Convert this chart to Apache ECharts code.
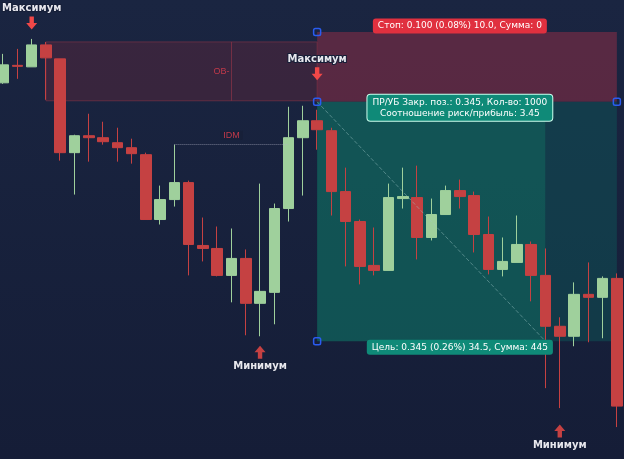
<!DOCTYPE html>
<html>
<head>
<meta charset="utf-8">
<script src="https://cdn.jsdelivr.net/npm/echarts@6/dist/echarts.min.js"></script>
<style>html,body{margin:0;padding:0;background:#161f38;}#c{width:624px;height:459px;}</style>
</head>
<body>
<div id="c"></div>
<script>
// свечи: open, close, low, high (условные единицы цены)
const opens  = [377,394.5,393,415,401,307,324,322,317,312,305,240,260,277,214,211,184,201,156,167,251,322,339,329,268,238,194,189,261,262,222,245,269,264,225,190,197,215,184,133,123,165,162,181];
const closes = [395,393.5,415,402,307,324,322,318,312,306,240,260,277,215,211,184,201,156,168,251,322,339,330,268,238,193,189,262,263,222,245,269,263,225,190,198,215,184,133,123,165,162,181,53];
const lows   = [376,381,393,360,299,265,298,315,298,296,240,235,253,184,198,183,157,124,123,135,238,264,310,244,193,175,184,189,251,200,219,245,251,207,185,183,197,158,71,51,113,117,121,32];
const highs  = [406,411,421,418,401,325,346,338,332,321,307,274,315,279,242,233,231,210,276,256,353,354,350,332,292,240,232,276,292,294,261,274,280,268,243,222,244,218,211,142,177,197,183,186];
const cats = opens.map((_, i) => 'c' + (i + 1));

// уровни зон
const obZone = [3, 22, 418, 359];       // x от, x до, верх, низ
const stopZone = [22, 43, 428, 358];
const targetZone = [22, 38, 358, 118];
const idmLevel = 315;

const labelStop = 'Стоп: 0.100 (0.08%) 10.0, Сумма: 0';
const labelPnl = 'ПР/УБ Закр. поз.: 0.345, Кол-во: 1000\nСоотношение риск/прибыль: 3.45';
const labelTarget = 'Цель: 0.345 (0.26%) 34.5, Сумма: 445';

const GREEN = '#9fd09c', RED = '#c54142';
const downArrow = 'path://M3,0 L7,0 L7,6 L10,6 L5,12 L0,6 L3,6 Z';
const upArrow = 'path://M5,0 L10,6 L7,6 L7,12 L3,12 L3,6 L0,6 Z';

let chart = echarts.init(document.getElementById('c'));
const txt = {color: '#e8e8ee', fontWeight: 'bold', fontSize: 10, fontFamily: 'DejaVu Sans',
    textBorderColor: '#161f38', textBorderWidth: 2};

function boxLabel(bg, border) {
    return {show: true, position: 'inside', color: '#fff', fontSize: 9, fontFamily: 'DejaVu Sans',
        backgroundColor: bg, borderColor: border, borderWidth: border ? 1 : 0, borderRadius: 3,
        padding: [2, 5], lineHeight: 11, align: 'center'};
}

let option = {
    backgroundColor: {type: 'linear', x: 0, y: 0, x2: 0, y2: 1,
        colorStops: [{offset: 0, color: '#1a2541'}, {offset: 1, color: '#151d37'}]},
    animation: false,
    grid: {left: -4, right: 0, top: 0, bottom: 0, outerBoundsMode: 'none'},
    xAxis: {type: 'category', data: cats, show: false, boundaryGap: true},
    yAxis: {type: 'value', min: 0, max: 460, show: false},
    series: [{
        type: 'candlestick',
        data: opens.map((o, i) => [o, closes[i], lows[i], highs[i]]),
        barWidth: 11,
        itemStyle: {color: GREEN, color0: RED, borderColor: GREEN, borderColor0: RED, borderWidth: 1},
        markArea: {
            silent: true,
            data: [
                [{coord: [obZone[0], obZone[2]], itemStyle: {color: 'rgba(95,40,60,0.45)', borderColor: 'rgba(120,50,70,0.7)', borderWidth: 1},
                  label: {show: true, position: 'inside', formatter: 'OB-', color: '#c0394a', fontSize: 9, offset: [40, 0]}},
                 {coord: [obZone[1], obZone[3]]}],
                [{coord: [stopZone[0], stopZone[2]], itemStyle: {color: 'rgba(140,45,70,0.55)'}}, {coord: [stopZone[1], stopZone[3]]}],
                [{coord: [targetZone[0], targetZone[2]], itemStyle: {color: 'rgba(14,115,100,0.62)'}}, {coord: [targetZone[1], targetZone[3]]}],
                [{coord: [targetZone[1], targetZone[2]], itemStyle: {color: 'rgba(14,90,90,0.45)'}}, {coord: [stopZone[1], targetZone[3]]}]
            ]
        },
        markLine: {
            silent: true, symbol: 'none',
            data: [
                [{coord: [15.8, obZone[2]], lineStyle: {color: 'rgba(130,50,70,0.8)', type: 'solid', width: 1}}, {coord: [15.8, obZone[3]]}],
                [{coord: [targetZone[0], targetZone[2]], lineStyle: {color: 'rgba(160,200,200,0.45)', type: 'dashed', width: 1}}, {coord: [targetZone[1], targetZone[3]]}],
                [{coord: [12, idmLevel], lineStyle: {color: 'rgba(180,180,200,0.6)', type: 'dotted', width: 1},
                  label: {show: true, position: 'middle', formatter: 'IDM', color: '#c0394a', fontSize: 9, backgroundColor: '#172039', padding: [0, 3]}},
                 {coord: [19.6, idmLevel]}]
            ],
            label: {show: false}
        },
        markPoint: {
            silent: true,
            data: [
                {coord: [2, 437], symbol: downArrow, symbolSize: [11, 13], itemStyle: {color: '#f04848'},
                 label: {show: true, position: 'top', distance: 3, formatter: 'Максимум', ...txt}},
                {coord: [22, 386], symbol: downArrow, symbolSize: [11, 13], itemStyle: {color: '#f04848'},
                 label: {show: true, position: 'top', distance: 3, formatter: 'Максимум', ...txt}},
                {coord: [18, 107], symbol: upArrow, symbolSize: [11, 13], itemStyle: {color: '#c54142'},
                 label: {show: true, position: 'bottom', distance: 3, formatter: 'Минимум', ...txt}},
                {coord: [39, 28], symbol: upArrow, symbolSize: [11, 13], itemStyle: {color: '#c54142'},
                 label: {show: true, position: 'bottom', distance: 3, formatter: 'Минимум', ...txt}},
                {coord: [32.4, 434], symbolSize: 0, label: {...boxLabel('#e0303f'), formatter: labelStop}},
                {coord: [32.4, 352], symbolSize: 0, label: {...boxLabel('#0f8a78', '#cfe'), formatter: labelPnl}},
                {coord: [32.4, 112], symbolSize: 0, label: {...boxLabel('#0f8a78'), formatter: labelTarget}},
                ...[[22, 428], [22, 358], [43, 358], [22, 118]].map(c => ({coord: c, symbol: 'roundRect', symbolSize: 7,
                    itemStyle: {color: 'rgba(0,0,0,0)', borderColor: '#2a5cf0', borderWidth: 1.5}, label: {show: false}}))
            ]
        }
    }]
};
chart.setOption(option);
</script>
</body>
</html>
